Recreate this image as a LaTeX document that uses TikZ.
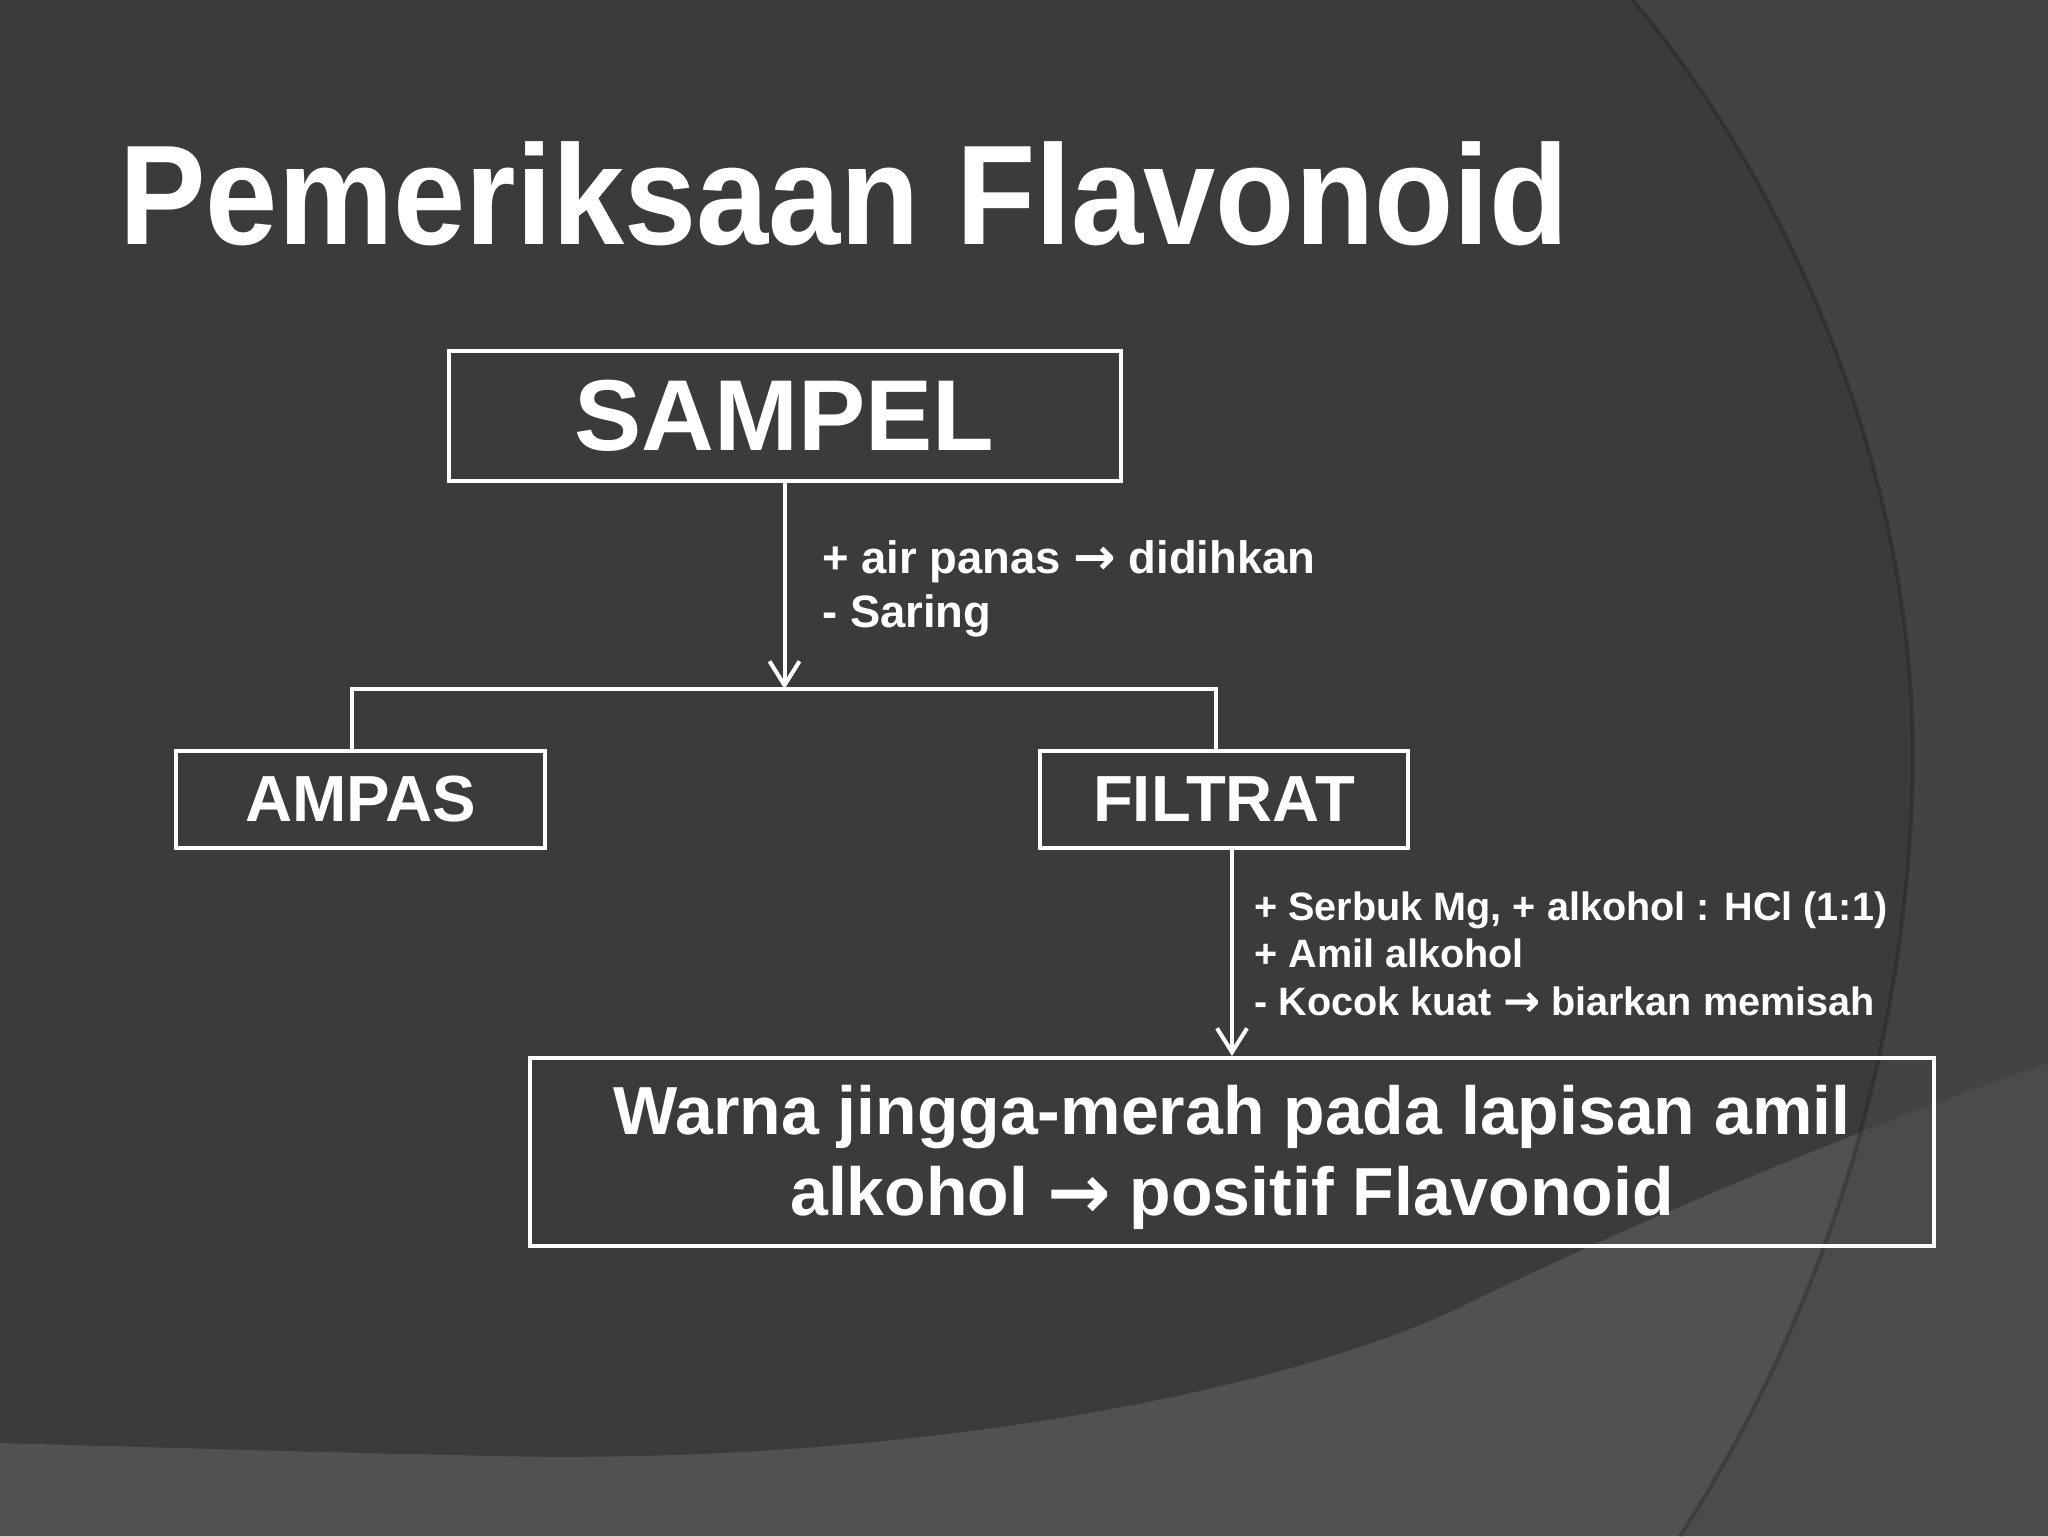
\documentclass[tikz,border=0pt]{standalone}
\usepackage{fontspec}
\setmainfont{Liberation Sans}
\newfontfamily\arrowfont{DejaVu Sans}
\usetikzlibrary{arrows.meta, positioning}
\definecolor{bgdark}{RGB}{59,59,59}
\definecolor{bgmid}{RGB}{67,67,67}
\definecolor{bglight}{RGB}{81,81,81}
\definecolor{bgband}{RGB}{75,75,75}
\newcommand{\ra}{{\arrowfont\bfseries\raisebox{-0.04em}{\scalebox{1.12}{→}}}}

\begin{document}
\begin{tikzpicture}[x=0.5pt, y=-0.5pt,
    box/.style={rectangle, draw=white, line width=2pt, inner sep=0pt, text=white},
    line/.style={draw=white, line width=2pt},
    arrow/.style={-{Straight Barb[length=12pt,width=15pt]}, draw=white, line width=2pt},
    note/.style={anchor=base west, align=left, text=white, inner sep=0pt, font=\bfseries\fontsize{19.8}{23.75}\selectfont}
]
\useasboundingbox (0,0) rectangle (2048,1536);
% background
\fill[bgmid] (0,0) rectangle (2048,1536);
\fill[bgdark] (0,0) -- (1633,0) .. controls (1800,200) and (1925,500) .. (1912,800)
    .. controls (1900,1100) and (1800,1350) .. (1680,1536) -- (0,1536) -- cycle;
\fill[bglight] (2048,1063) .. controls (1800,1150) and (1600,1240) .. (1475,1300)
    .. controls (1300,1390) and (900,1470) .. (457,1455)
    .. controls (300,1452) and (150,1447) .. (0,1443) -- (0,1536) -- (2048,1536) -- cycle;
\begin{scope}
  \clip (2048,1063) .. controls (1800,1150) and (1600,1240) .. (1475,1300)
      -- (1475,1536) -- (2048,1536) -- cycle;
  \fill[bgband] (1912,800) .. controls (1900,1100) and (1800,1350) .. (1680,1536)
      -- (2048,1536) -- (2048,800) -- cycle;
\end{scope}
\draw[black, opacity=0.2, line width=2pt] (1633,0) .. controls (1800,200) and (1925,500) .. (1912,800)
    .. controls (1900,1100) and (1800,1350) .. (1680,1536);

% title
\node[anchor=base west, inner sep=0pt, text=white, font=\bfseries\fontsize{71}{85}\selectfont] (judul) at (119,244)
    {\scalebox{0.914}[1]{Pemeriksaan Flavonoid}};

% boxes
\node[box, minimum width=336pt, minimum height=65pt, font=\bfseries\fontsize{50.4}{60}\selectfont] (sampel) at (784.5,416) {SAMPEL};
\node[box, minimum width=184.5pt, minimum height=48.5pt, font=\bfseries\fontsize{32.6}{39}\selectfont] (ampas) at (360.5,799.5) {AMPAS};
\node[box, minimum width=184pt, minimum height=48.5pt, font=\bfseries\fontsize{32.6}{39}\selectfont] (filtrat) at (1224,799.5) {FILTRAT};
\node[box, minimum width=702pt, minimum height=94pt, align=center, font=\bfseries\fontsize{34}{40.5}\selectfont] (hasil) at (1232,1152)
    {\rule{0pt}{30pt}Warna jingga-merah pada lapisan amil\\alkohol \ra{} positif Flavonoid};

% connectors
\coordinate (cabang) at (784.5,689);
\coordinate (kiri) at (352,689);
\coordinate (kanan) at (1216,689);
\draw[arrow] (sampel) -- (cabang);
\draw[line] (ampas.north -| kiri) -- (kiri) -- (kanan) -- (filtrat.north -| kanan);
\draw[arrow] (filtrat.south -| hasil.north) -- (hasil.north);

% notes
\node[note, font=\bfseries\fontsize{22.7}{27}\selectfont] (ket1) at (822,627) {+ air panas \ra{} didihkan\\- Saring};
\node[note] (ket2) at (1254,1015) {+ Serbuk Mg, + alkohol : HCl (1:1)\\+ Amil alkohol\\- Kocok kuat \ra{} biarkan memisah};
\end{tikzpicture}
\end{document}
